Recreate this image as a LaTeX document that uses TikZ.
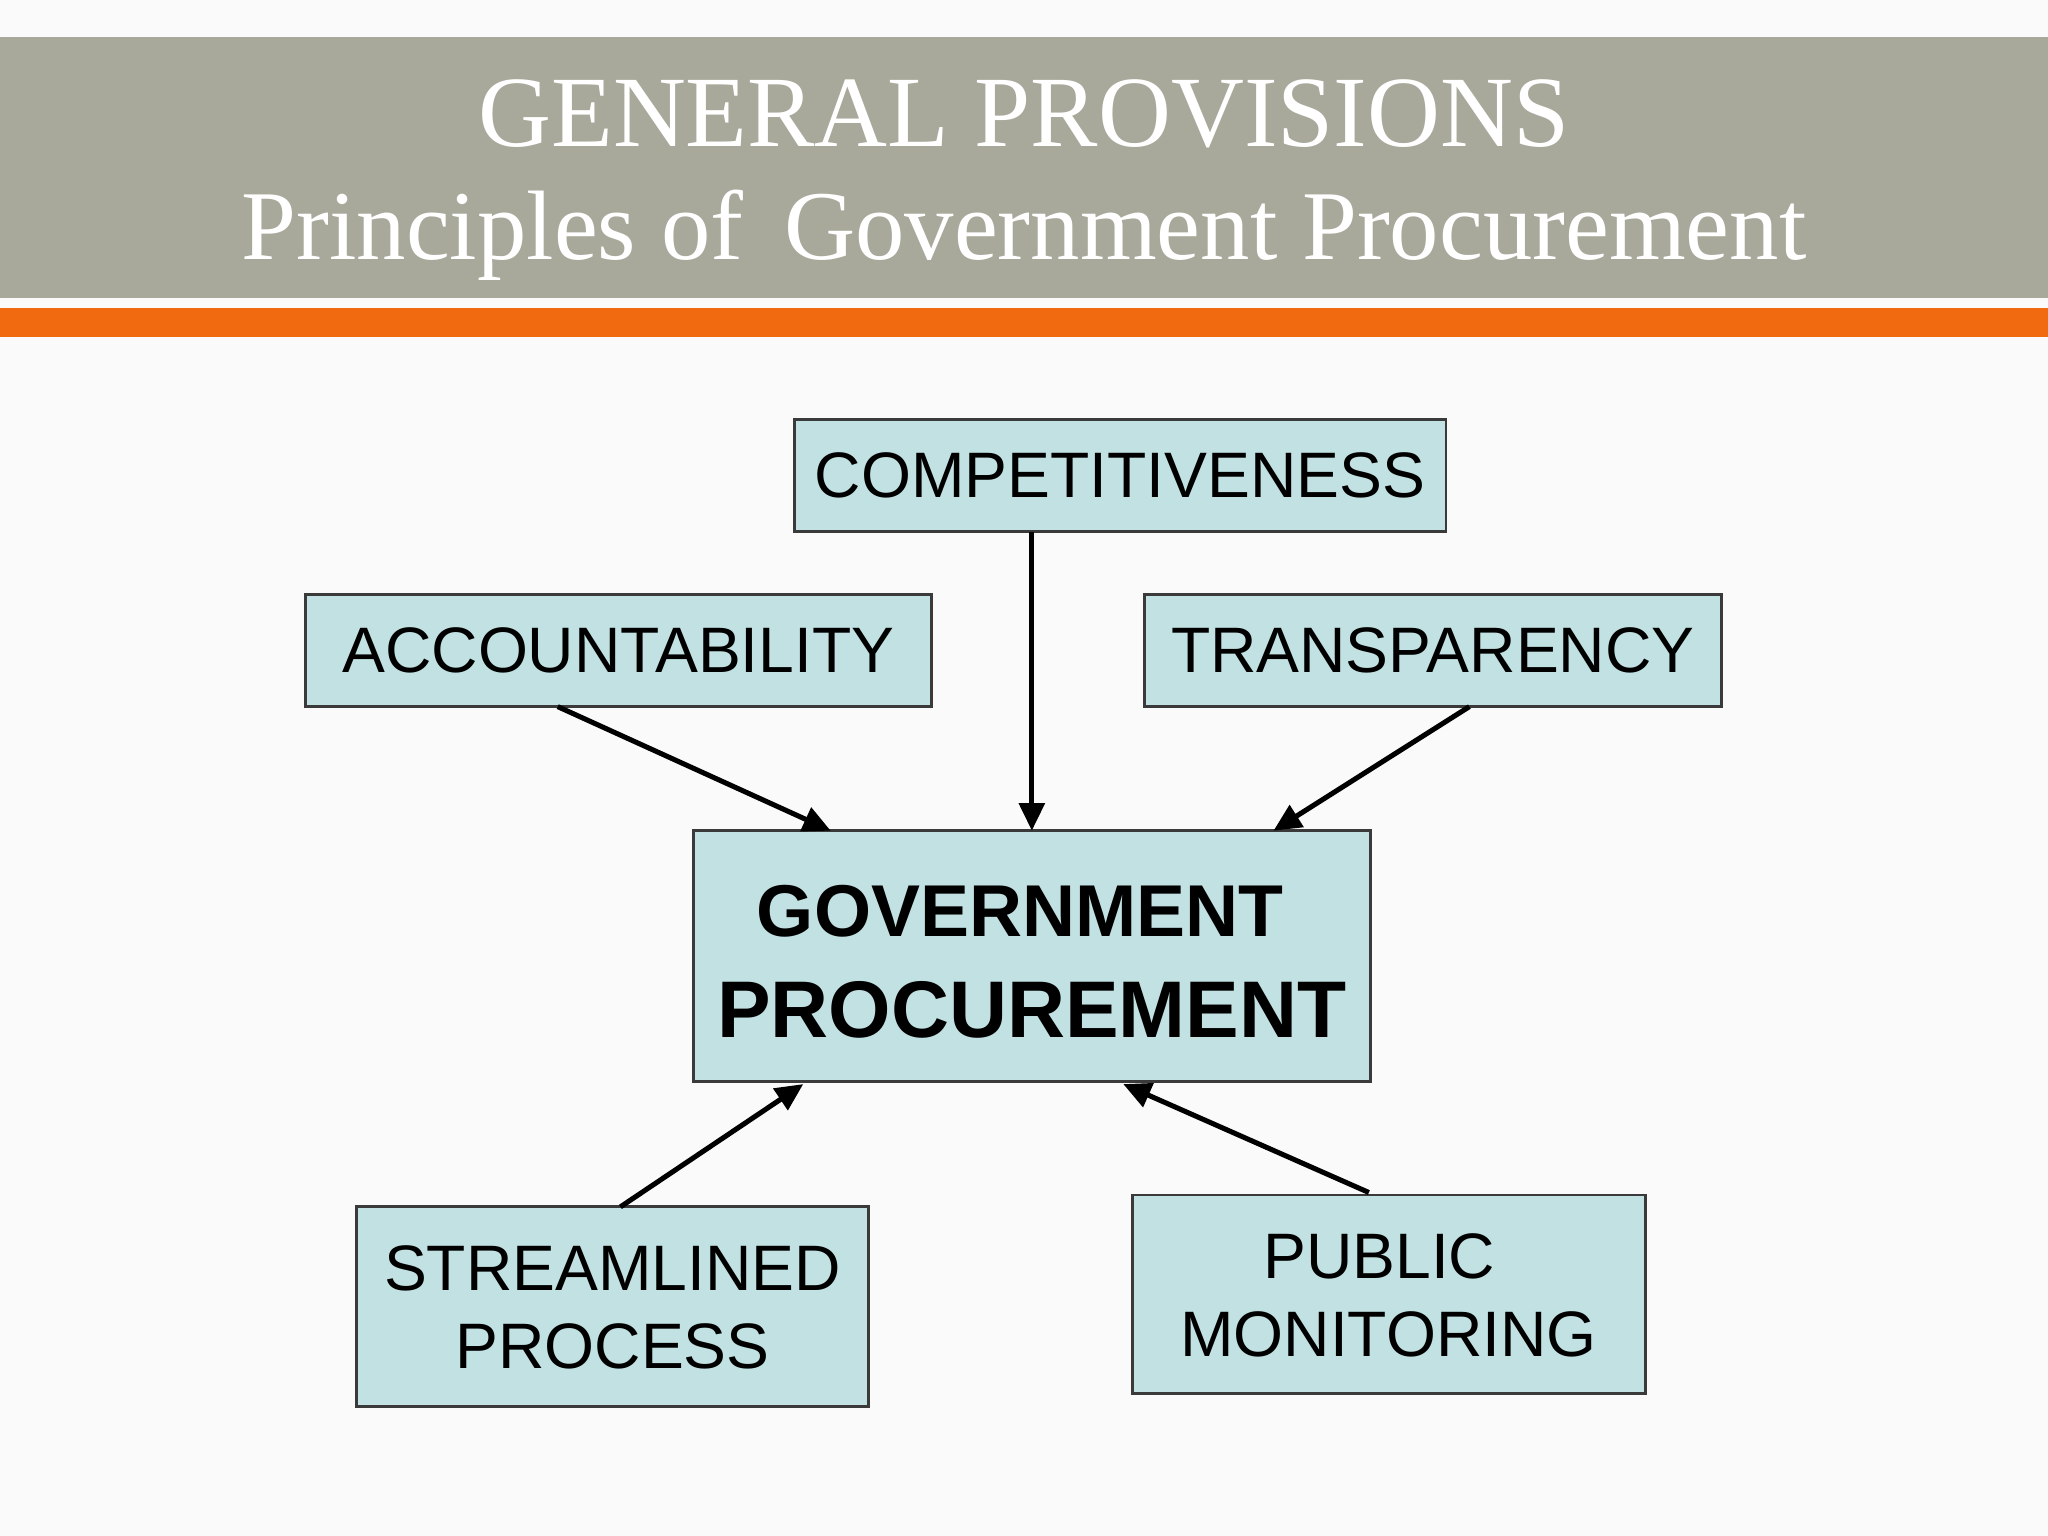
\documentclass[tikz,border=0pt]{standalone}
\usepackage{fontspec}
\setmainfont{Liberation Sans}
\newfontfamily\titlefont{Liberation Serif}
\usetikzlibrary{arrows.meta}
\definecolor{bandgray}{HTML}{A8A99B}
\definecolor{bandorange}{HTML}{F26A10}
\definecolor{boxfill}{HTML}{C2E1E2}
\definecolor{boxline}{HTML}{3A3A3A}
\tikzset{
  pbox/.style={draw=boxline, line width=1.2pt, fill=boxfill, inner sep=0pt, align=center},
  arr/.style={line width=2.2pt, -{Triangle[length=12pt,width=11pt]}},
  lbl/.style={font=\fontsize{28}{34}\selectfont}
}
\begin{document}
\begin{tikzpicture}[x=0.02cm,y=-0.02cm]
\useasboundingbox (0,0) rectangle (1568,1176);
\fill[white!98!black] (0,0) rectangle (1568,1176);
\fill[bandgray] (0,28) rectangle (1568,228);
\fill[bandorange] (0,236) rectangle (1568,258);
\node[text=white, font=\titlefont\fontsize{44}{50}\selectfont] (t1) at (784,87) {GENERAL PROVISIONS};
\node[text=white, font=\titlefont\fontsize{43}{50}\selectfont] (t2) at (784,180) {Principles of\, Government Procurement};

\path[pbox] (608,321) rectangle (1107,407);
\node[lbl] (comp) at (857.5,364) {COMPETITIVENESS};
\path[pbox] (234,455) rectangle (713,541);
\node[lbl] (acc) at (473.5,498) {ACCOUNTABILITY};
\path[pbox] (876,455) rectangle (1318,541);
\node[lbl] (tra) at (1097,498) {TRANSPARENCY};
\path[pbox] (531,636) rectangle (1049,828);
\node[font=\fontsize{32}{38}\selectfont\bfseries] (gov) at (781,698) {GOVERNMENT};
\node[font=\fontsize{35}{42}\selectfont\bfseries] (proc) at (790,773) {PROCUREMENT};
\path[pbox] (273,924) rectangle (665,1077);
\node[lbl] (str) at (469,971) {STREAMLINED};
\node[lbl] (str2) at (469,1031) {PROCESS};
\path[pbox] (867,915) rectangle (1260,1067);
\node[lbl] (pub) at (1056,962) {PUBLIC};
\node[lbl] (pub2) at (1063,1022) {MONITORING};

\coordinate (c1) at (790,407); \coordinate (g1) at (790,636);
\coordinate (a1) at (427,541); \coordinate (g2) at (636,636);
\coordinate (r1) at (1125,541); \coordinate (g3) at (975,636);
\coordinate (s1) at (475,924); \coordinate (g4) at (615,830);
\coordinate (p1) at (1048,913); \coordinate (g5) at (860,830);
\draw[arr] (c1) -- (g1);
\draw[arr] (a1) -- (g2);
\draw[arr] (r1) -- (g3);
\draw[arr] (s1) -- (g4);
\draw[arr] (p1) -- (g5);
\end{tikzpicture}
\end{document}
